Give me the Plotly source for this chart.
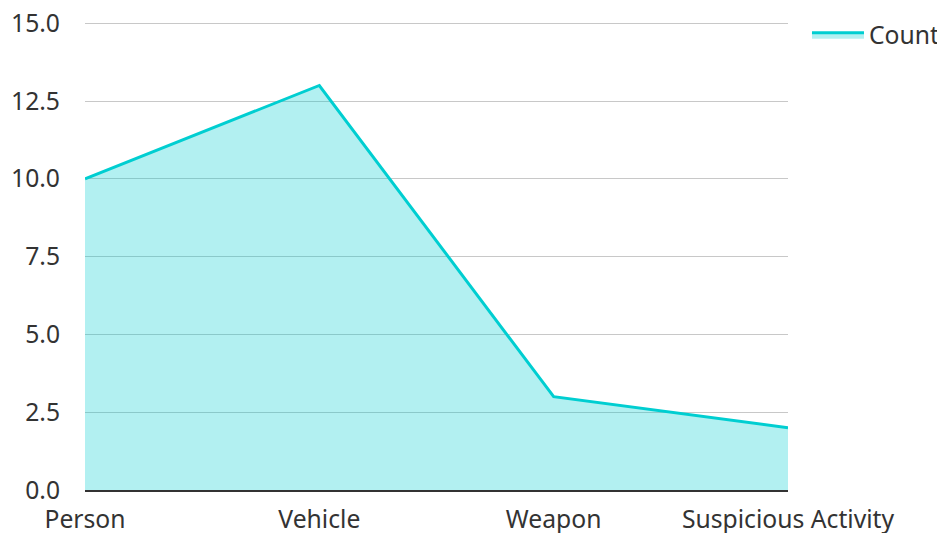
import plotly.graph_objects as go

categories = ["Person", "Vehicle", "Weapon", "Suspicious Activity"]
counts = [10, 13, 3, 2]
series_name = "Count"
y_ticks = [0, 2.5, 5, 7.5, 10, 12.5, 15]

fig = go.Figure()
fig.add_trace(go.Scatter(
    x=categories, y=counts, name=series_name, mode="lines",
    line=dict(color="#00CED1", width=3),
    fill="tozeroy", fillcolor="rgba(0,206,209,0.3)",
    showlegend=True,
))

font_family = "Noto Sans, Open Sans, sans-serif"
fs = 24.7
fig.update_layout(
    width=945, height=533,
    margin=dict(l=77, r=165, t=14, b=51, autoexpand=False),
    paper_bgcolor="white", plot_bgcolor="white",
    font=dict(family=font_family, size=fs, color="#333333"),
    legend=dict(x=1.027, y=1.021, xanchor="left", yanchor="top", itemwidth=52,
                font=dict(size=fs, color="#333333"), bgcolor="rgba(0,0,0,0)"),
    xaxis=dict(type="category", range=[0, 3], showgrid=False, automargin=False,
               showline=True, linecolor="#333333", linewidth=2,
               ticks="", ticklabelstandoff=6, tickfont=dict(size=fs, color="#333333")),
    yaxis=dict(range=[0, 15.04], tickvals=y_ticks, tickformat=".1f", automargin=False,
               showgrid=True, gridcolor="#c8c8c8", gridwidth=1,
               zeroline=False, showline=False, ticks="", ticklabeloverflow="allow",
               ticklabelstandoff=24, tickfont=dict(size=fs, color="#333333")),
)
fig.write_html("out.html")
